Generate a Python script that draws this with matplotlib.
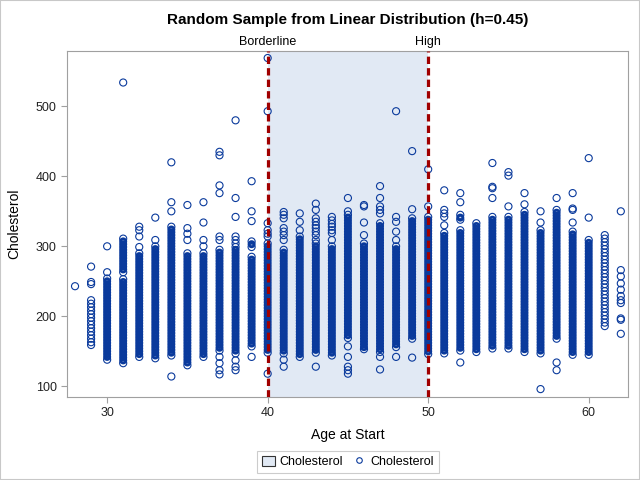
import matplotlib
matplotlib.use("Agg")
import matplotlib.pyplot as plt
from matplotlib.lines import Line2D
from matplotlib.patches import Patch, Rectangle
import matplotlib.transforms as mtransforms

plt.rcParams['font.family'] = ['Liberation Sans', 'DejaVu Sans']

# Age at start (x) and the cholesterol values for each age
ages = list(range(28, 63))
cholesterol = [
    [243],  # 28
    [271, 249, 246, 223, 218, 213, 208, 203, 198, 193, 188, 183, 178, 173, 168, 163, 159],  # 29
    [300, 263, 254, 250, 246, 242, 238, 234, 230, 226, 222, 218, 214, 210, 206, 202, 198, 194, 190, 186,
     182, 178, 174, 170, 166, 162, 158, 154, 150, 146, 142, 138],  # 30
    [534, 311, 307, 303, 299, 295, 291, 287, 283, 279, 275, 271, 267, 263, 253, 249, 245, 241, 237, 233,
     229, 225, 221, 217, 213, 209, 205, 201, 197, 193, 189, 185, 181, 177, 173, 169, 165, 161, 157, 153,
     149, 145, 141, 137, 133],  # 31
    [328, 323, 314, 299, 290, 286, 282, 278, 274, 270, 266, 262, 258, 254, 250, 246, 242, 238, 234, 230,
     226, 222, 218, 214, 210, 206, 202, 198, 194, 190, 186, 182, 178, 174, 170, 166, 162, 158, 154, 150,
     146, 142],  # 32
    [341, 309, 300, 296, 292, 288, 284, 280, 276, 272, 268, 264, 260, 256, 252, 248, 244, 240, 236, 232,
     228, 224, 220, 216, 212, 208, 204, 200, 196, 192, 188, 184, 180, 176, 172, 168, 164, 160, 156, 152,
     148, 144, 140],  # 33
    [420, 363, 350, 328, 324, 320, 316, 312, 308, 304, 300, 296, 292, 288, 284, 280, 276, 272, 268, 264,
     260, 256, 252, 248, 244, 240, 236, 232, 228, 224, 220, 216, 212, 208, 204, 200, 196, 192, 188, 184,
     180, 176, 172, 168, 164, 160, 156, 152, 148, 144, 114],  # 34
    [359, 326, 318, 309, 290, 286, 282, 278, 274, 270, 266, 262, 258, 254, 250, 246, 242, 238, 234, 230,
     226, 222, 218, 214, 210, 206, 202, 198, 194, 190, 186, 182, 178, 174, 170, 166, 162, 158, 154, 150,
     146, 142, 138, 134, 130],  # 35
    [363, 334, 309, 300, 290, 286, 282, 278, 274, 270, 266, 262, 258, 254, 250, 246, 242, 238, 234, 230,
     226, 222, 218, 214, 210, 206, 202, 198, 194, 190, 186, 182, 178, 174, 170, 166, 162, 158, 154, 150,
     146, 142],  # 36
    [435, 430, 387, 376, 314, 309, 295, 291, 287, 283, 279, 275, 271, 267, 263, 259, 255, 251, 247, 243,
     239, 235, 231, 227, 223, 219, 215, 211, 207, 203, 199, 195, 191, 187, 183, 179, 175, 171, 167, 163,
     159, 155, 151, 142, 133, 123, 117],  # 37
    [480, 369, 342, 314, 309, 304, 299, 295, 291, 287, 283, 279, 275, 271, 267, 263, 259, 255, 251, 247,
     243, 239, 235, 231, 227, 223, 219, 215, 211, 207, 203, 199, 195, 191, 187, 183, 179, 175, 171, 167,
     163, 159, 155, 151, 147, 137, 128, 123],  # 38
    [393, 350, 336, 307, 303, 299, 285, 281, 277, 273, 269, 265, 261, 257, 253, 249, 245, 241, 237, 233,
     229, 225, 221, 217, 213, 209, 205, 201, 197, 193, 189, 185, 181, 177, 173, 169, 165, 161, 157, 142],  # 39
    [569, 493, 333, 323, 318, 314, 304, 300, 296, 292, 288, 284, 280, 276, 272, 268, 264, 260, 256, 252,
     248, 244, 240, 236, 232, 228, 224, 220, 216, 212, 208, 204, 200, 196, 192, 188, 184, 180, 176, 172,
     168, 164, 160, 156, 152, 148, 118],  # 40
    [349, 345, 340, 326, 321, 316, 309, 295, 291, 287, 283, 279, 275, 271, 267, 263, 259, 255, 251, 247,
     243, 239, 235, 231, 227, 223, 219, 215, 211, 207, 203, 199, 195, 191, 187, 183, 179, 175, 171, 167,
     163, 159, 155, 151, 147, 138, 128],  # 41
    [347, 335, 323, 314, 310, 306, 302, 298, 294, 290, 286, 282, 278, 274, 270, 266, 262, 258, 254, 250,
     246, 242, 238, 234, 230, 226, 222, 218, 214, 210, 206, 202, 198, 194, 190, 186, 182, 178, 174, 170,
     166, 162, 158, 154, 150, 146, 142],  # 42
    [361, 352, 340, 335, 330, 326, 321, 316, 309, 304, 300, 296, 292, 288, 284, 280, 276, 272, 268, 264,
     260, 256, 252, 248, 244, 240, 236, 232, 228, 224, 220, 216, 212, 208, 204, 200, 196, 192, 188, 184,
     180, 176, 172, 168, 164, 160, 156, 152, 148, 128],  # 43
    [342, 337, 332, 328, 323, 319, 309, 300, 296, 292, 288, 284, 280, 276, 272, 268, 264, 260, 256, 252,
     248, 244, 240, 236, 232, 228, 224, 220, 216, 212, 208, 204, 200, 196, 192, 188, 184, 180, 176, 172,
     168, 164, 160, 156, 152, 148, 144],  # 44
    [369, 350, 345, 341, 337, 333, 329, 325, 321, 317, 313, 309, 305, 301, 297, 293, 289, 285, 281, 277,
     273, 269, 265, 261, 257, 253, 249, 245, 241, 237, 233, 229, 225, 221, 217, 213, 209, 205, 201, 197,
     193, 189, 185, 181, 177, 173, 169, 157, 142, 128, 123, 118],  # 45
    [359, 357, 334, 316, 304, 300, 296, 292, 288, 284, 280, 276, 272, 268, 264, 260, 256, 252, 248, 244,
     240, 236, 232, 228, 224, 220, 216, 212, 208, 204, 200, 196, 192, 188, 184, 180, 176, 172, 168, 164,
     160, 156, 153],  # 46
    [386, 369, 357, 352, 347, 333, 329, 325, 321, 317, 313, 309, 305, 301, 297, 293, 289, 285, 281, 277,
     273, 269, 265, 261, 257, 253, 249, 245, 241, 237, 233, 229, 225, 221, 217, 213, 209, 205, 201, 197,
     193, 189, 185, 181, 177, 173, 169, 165, 161, 157, 153, 149, 142, 124],  # 47
    [493, 342, 335, 321, 309, 300, 296, 292, 288, 284, 280, 276, 272, 268, 264, 260, 256, 252, 248, 244,
     240, 236, 232, 228, 224, 220, 216, 212, 208, 204, 200, 196, 192, 188, 184, 180, 176, 172, 168, 164,
     160, 156, 142],  # 48
    [436, 353, 340, 336, 332, 328, 324, 320, 316, 312, 308, 304, 300, 296, 292, 288, 284, 280, 276, 272,
     268, 264, 260, 256, 252, 248, 244, 240, 236, 232, 228, 224, 220, 216, 212, 208, 204, 200, 196, 192,
     188, 184, 180, 176, 172, 168, 141],  # 49
    [410, 357, 342, 338, 334, 330, 326, 322, 318, 314, 310, 306, 302, 298, 294, 290, 286, 282, 278, 274,
     270, 266, 262, 258, 254, 250, 246, 242, 238, 234, 230, 226, 222, 218, 214, 210, 206, 202, 198, 194,
     190, 186, 182, 178, 174, 170, 166, 162, 158, 154, 150, 146],  # 50
    [380, 352, 347, 342, 330, 319, 315, 311, 307, 303, 299, 295, 291, 287, 283, 279, 275, 271, 267, 263,
     259, 255, 251, 247, 243, 239, 235, 231, 227, 223, 219, 215, 211, 207, 203, 199, 195, 191, 187, 183,
     179, 175, 171, 167, 163, 159, 155, 151, 147],  # 51
    [376, 363, 345, 341, 338, 323, 319, 315, 311, 307, 303, 299, 295, 291, 287, 283, 279, 275, 271, 267,
     263, 259, 255, 251, 247, 243, 239, 235, 231, 227, 223, 219, 215, 211, 207, 203, 199, 195, 191, 187,
     183, 179, 175, 171, 167, 163, 159, 155, 151, 134],  # 52
    [333, 329, 325, 321, 317, 313, 309, 305, 301, 297, 293, 289, 285, 281, 277, 273, 269, 265, 261, 257,
     253, 249, 245, 241, 237, 233, 229, 225, 221, 217, 213, 209, 205, 201, 197, 193, 189, 185, 181, 177,
     173, 169, 165, 161, 157, 153, 149],  # 53
    [419, 385, 383, 369, 342, 338, 334, 330, 326, 322, 318, 314, 310, 306, 302, 298, 294, 290, 286, 282,
     278, 274, 270, 266, 262, 258, 254, 250, 246, 242, 238, 234, 230, 226, 222, 218, 214, 210, 206, 202,
     198, 194, 190, 186, 182, 178, 174, 170, 166, 162, 158, 154],  # 54
    [406, 401, 357, 342, 338, 334, 330, 326, 322, 318, 314, 310, 306, 302, 298, 294, 290, 286, 282, 278,
     274, 270, 266, 262, 258, 254, 250, 246, 242, 238, 234, 230, 226, 222, 218, 214, 210, 206, 202, 198,
     194, 190, 186, 182, 178, 174, 170, 166, 162, 158, 154],  # 55
    [376, 360, 349, 345, 341, 337, 333, 329, 325, 321, 317, 313, 309, 305, 301, 297, 293, 289, 285, 281,
     277, 273, 269, 265, 261, 257, 253, 249, 245, 241, 237, 233, 229, 225, 221, 217, 213, 209, 205, 201,
     197, 193, 189, 185, 181, 177, 173, 169, 165, 161, 157, 153, 149],  # 56
    [350, 334, 323, 319, 315, 311, 307, 303, 299, 295, 291, 287, 283, 279, 275, 271, 267, 263, 259, 255,
     251, 247, 243, 239, 235, 231, 227, 223, 219, 215, 211, 207, 203, 199, 195, 191, 187, 183, 179, 175,
     171, 167, 163, 159, 155, 151, 147, 96],  # 57
    [369, 352, 348, 344, 340, 336, 332, 328, 324, 320, 316, 312, 308, 304, 300, 296, 292, 288, 284, 280,
     276, 272, 268, 264, 260, 256, 252, 248, 244, 240, 236, 232, 228, 224, 220, 216, 212, 208, 204, 200,
     196, 192, 188, 184, 180, 176, 172, 168, 134, 123],  # 58
    [376, 354, 352, 334, 321, 317, 313, 309, 305, 301, 297, 293, 289, 285, 281, 277, 273, 269, 265, 261,
     257, 253, 249, 245, 241, 237, 233, 229, 225, 221, 217, 213, 209, 205, 201, 197, 193, 189, 185, 181,
     177, 173, 169, 165, 161, 157, 153, 149, 145],  # 59
    [426, 341, 309, 305, 301, 297, 293, 289, 285, 281, 277, 273, 269, 265, 261, 257, 253, 249, 245, 241,
     237, 233, 229, 225, 221, 217, 213, 209, 205, 201, 197, 193, 189, 185, 181, 177, 173, 169, 165, 161,
     157, 153, 149, 145],  # 60
    [316, 311, 306, 301, 296, 291, 286, 281, 276, 271, 266, 261, 256, 251, 246, 241, 236, 231, 226, 221,
     216, 211, 206, 201, 196, 191, 186],  # 61
    [350, 266, 257, 247, 238, 229, 223, 219, 197, 195, 175],  # 62
]

borderline_age = 40
high_age = 50

point_color = '#0a3a9c'
band_color = '#e1e9f4'
line_color = '#a00000'
frame_color = '#a0a0a0'

xs = []
ys = []
sizes = []
widths = []
for age, vals in zip(ages, cholesterol):
    for v in vals:
        xs.append(age)
        ys.append(v)
        # circles inside a crowded column overlap into a solid bar in the original
        near = sum(1 for w in vals if abs(w - v) <= 4.5)
        if near >= 3:
            sizes.append(14)
            widths.append(2.0)
        else:
            sizes.append(26)
            widths.append(0.8)

fig = plt.figure(figsize=(6.4, 4.8), dpi=100)
ax = fig.add_axes([0.1047, 0.1729, 0.8766, 0.7208])

ax.axvspan(borderline_age, high_age, color=band_color, zorder=1, lw=0)
ax.scatter(xs, ys, s=sizes, facecolors='none', edgecolors=point_color, linewidths=widths, zorder=2)
for a in (borderline_age, high_age):
    ax.axvline(a, color=line_color, lw=2.3, dashes=(2.3, 1.3), zorder=3)

trans = mtransforms.blended_transform_factory(ax.transData, ax.transAxes)
ax.text(borderline_age, 1.008, 'Borderline', transform=trans, ha='center', va='bottom', fontsize=9)
ax.text(high_age, 1.008, 'High', transform=trans, ha='center', va='bottom', fontsize=9)

ax.set_xlim(27.5, 62.45)
ax.set_ylim(84.7, 579)
ax.set_xticks([30, 40, 50, 60])
ax.set_yticks([100, 200, 300, 400, 500])
ax.tick_params(direction='out', length=4, color=frame_color, labelsize=9, labelcolor='#222222')
for sp in ax.spines.values():
    sp.set_color(frame_color)

ax.set_xlabel('Age at Start', fontsize=10, labelpad=6)
ax.set_ylabel('Cholesterol', fontsize=10, labelpad=10)

fig.text(0.543, 0.958, 'Random Sample from Linear Distribution (h=0.45)',
         ha='center', va='center', fontsize=11, fontweight='bold')

handles = [Patch(facecolor=band_color, edgecolor='#333333', lw=0.8),
           Line2D([], [], marker='o', ls='none', mfc='none', mec=point_color, ms=4, mew=0.8)]
leg = fig.legend(handles, ['Cholesterol', 'Cholesterol'], loc='center', bbox_to_anchor=(0.544, 0.038),
                 ncol=2, frameon=True, fancybox=False, fontsize=9, handlelength=1.0, handleheight=0.9,
                 handletextpad=0.4, columnspacing=0.8, borderpad=0.4)
leg.get_frame().set_edgecolor('#c0c0c0')
leg.get_frame().set_linewidth(0.8)

fig.patches.append(Rectangle((0, 0), 1, 1, transform=fig.transFigure, fill=False,
                             edgecolor='#c8c8c8', lw=1.5))

plt.savefig('out.png', dpi=100)
